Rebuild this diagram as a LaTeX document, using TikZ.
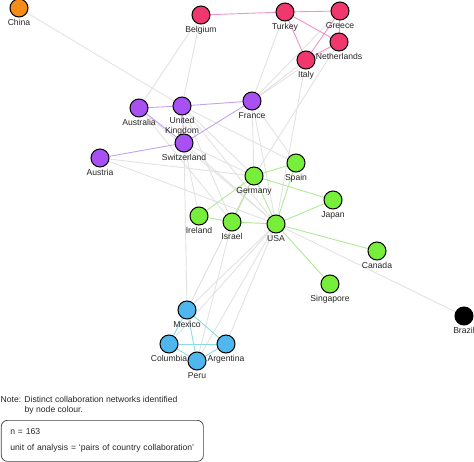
\documentclass[tikz,border=0pt]{standalone}
\usepackage{fontspec}
\setmainfont{Liberation Sans}
\usepackage{xcolor}
\usepackage{tikz}
\usetikzlibrary{backgrounds}

\definecolor{netred}{RGB}{240,56,110}
\definecolor{netpurple}{RGB}{168,80,242}
\definecolor{netgreen}{RGB}{118,238,58}
\definecolor{netblue}{RGB}{80,182,238}
\definecolor{netorange}{RGB}{245,140,24}
\definecolor{edgered}{RGB}{238,150,200}
\definecolor{edgepurple}{RGB}{200,160,240}
\definecolor{edgegreen}{RGB}{175,235,150}
\definecolor{edgeblue}{RGB}{140,220,230}
\definecolor{edgegray}{RGB}{226,226,226}

\begin{document}
\begin{tikzpicture}[x=1pt,y=-1pt,
  country/.style={circle,draw=black,line width=1pt,minimum size=18pt,inner sep=0pt,fill=#1},
  lbl/.style={font=\fontsize{8.6}{10}\selectfont,text=black!85,inner sep=0.5pt,align=center},
  every label/.style={lbl},
  label distance=1pt,
  tie/.style={draw=#1,line width=0.9pt}]
\useasboundingbox (0,0) rectangle (474,462);

% countries
\node[country=netorange,label=below:China] (china) at (19,8) {};
\node[country=netred,label=below:Belgium] (belgium) at (201,15) {};
\node[country=netred,label=below:Turkey] (turkey) at (285,12) {};
\node[country=netred,label=below:Greece] (greece) at (340,11) {};
\node[country=netred,label=below:Netherlands] (netherlands) at (339,42) {};
\node[country=netred,label=below:Italy] (italy) at (306,60) {};
\node[country=netpurple,label=below:Australia] (australia) at (139,108) {};
\node[country=netpurple,label=below:United\\Kingdom] (uk) at (182,106) {};
\node[country=netpurple,label=below:France] (france) at (252,101) {};
\node[country=netpurple,label=below:Switzerland] (switzerland) at (184,143) {};
\node[country=netpurple,label=below:Austria] (austria) at (100,158) {};
\node[country=netgreen,label=below:Spain] (spain) at (296,163) {};
\node[country=netgreen,label=below:Germany] (germany) at (254,176) {};
\node[country=netgreen,label=below:Japan] (japan) at (333,200) {};
\node[country=netgreen,label=below:Ireland] (ireland) at (199,216) {};
\node[country=netgreen,label=below:Israel] (israel) at (232,222) {};
\node[country=netgreen,label=below:USA] (usa) at (276,224) {};
\node[country=netgreen,label=below:Canada] (canada) at (377,251) {};
\node[country=netgreen,label=below:Singapore] (singapore) at (330,284) {};
\node[country=black,label=below:Brazil] (brazil) at (464,316) {};
\node[country=netblue,label=below:Mexico] (mexico) at (187,310) {};
\node[country=netblue,label=below:Columbia] (columbia) at (169,344) {};
\node[country=netblue,label=below:Argentina] (argentina) at (226,344) {};
\node[country=netblue,label=below:Peru] (peru) at (197,361) {};

\begin{scope}[on background layer]
  \foreach \a/\b in {china/uk,belgium/australia,belgium/uk,turkey/france,greece/france,
      netherlands/france,italy/france,italy/usa,netherlands/germany,france/germany,
      france/spain,france/usa,uk/spain,uk/germany,uk/usa,uk/israel,switzerland/germany,
      switzerland/usa,switzerland/ireland,switzerland/mexico,australia/usa,australia/israel,
      austria/germany,austria/usa,usa/mexico,usa/columbia,usa/peru,usa/argentina,
      germany/mexico,israel/peru,usa/brazil}
    \draw[tie=edgegray] (\a) -- (\b);
  \foreach \a/\b in {belgium/turkey,turkey/greece,turkey/netherlands,turkey/italy,
      greece/netherlands,greece/italy,netherlands/italy}
    \draw[tie=edgered] (\a) -- (\b);
  \foreach \a/\b in {australia/uk,australia/switzerland,uk/france,uk/switzerland,
      switzerland/france,austria/switzerland}
    \draw[tie=edgepurple] (\a) -- (\b);
  \foreach \a/\b in {germany/spain,germany/japan,germany/ireland,germany/israel,
      germany/usa,spain/usa,japan/usa,ireland/israel,israel/usa,usa/canada,usa/singapore}
    \draw[tie=edgegreen] (\a) -- (\b);
  \foreach \a/\b in {mexico/columbia,mexico/argentina,mexico/peru,columbia/argentina,
      columbia/peru,peru/argentina}
    \draw[tie=edgeblue] (\a) -- (\b);
\end{scope}

% note and legend box
\node[lbl,anchor=west,align=left] (note) at (0,405)
  {Note: Distinct collaboration networks identified\\\hspace*{24pt}by node colour.};
\node[draw=black!75,line width=0.7pt,rounded corners=6pt,anchor=north west,
  text width=184pt,inner xsep=9pt,minimum height=41pt,align=left,
  font=\fontsize{8.6}{16}\selectfont,text=black!85] (legend) at (1,420)
  {n = 163\\unit of analysis = `pairs of country collaboration'};
\end{tikzpicture}
\end{document}
